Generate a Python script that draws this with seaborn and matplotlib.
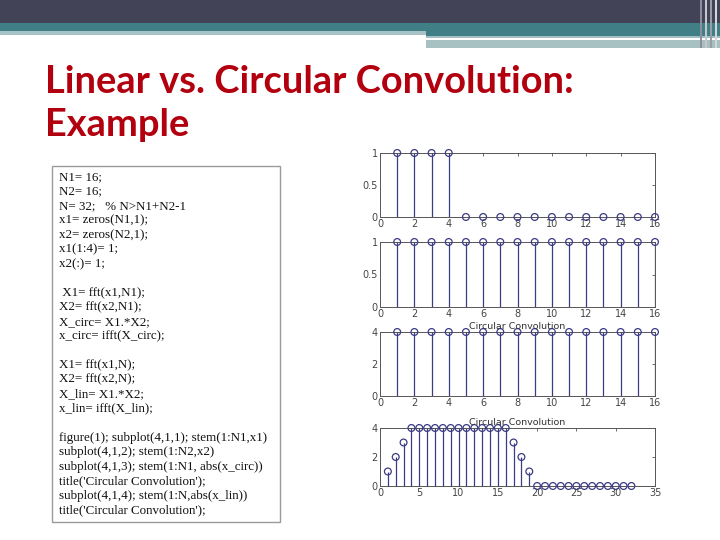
import numpy as np
import pandas as pd
import seaborn as sns
import matplotlib.pyplot as plt
from matplotlib.patches import Rectangle

# ---- data ----
n1 = list(range(1, 17))
x1 = [1, 1, 1, 1, 0, 0, 0, 0, 0, 0, 0, 0, 0, 0, 0, 0]
x2 = [1] * 16
x_circ = [4] * 16
n_lin = list(range(1, 33))
x_lin = [1, 2, 3, 4, 4, 4, 4, 4, 4, 4, 4, 4, 4, 4, 4, 4, 3, 2, 1,
         0, 0, 0, 0, 0, 0, 0, 0, 0, 0, 0, 0, 0]

title_lines = ["Linear vs. Circular Convolution:", "Example"]
code_lines = [
    "N1= 16;",
    "N2= 16;",
    "N= 32;   % N>N1+N2-1",
    "x1= zeros(N1,1);",
    "x2= zeros(N2,1);",
    "x1(1:4)= 1;",
    "x2(:)= 1;",
    "",
    " X1= fft(x1,N1);",
    "X2= fft(x2,N1);",
    "X_circ= X1.*X2;",
    "x_circ= ifft(X_circ);",
    "",
    "X1= fft(x1,N);",
    "X2= fft(x2,N);",
    "X_lin= X1.*X2;",
    "x_lin= ifft(X_lin);",
    "",
    "figure(1); subplot(4,1,1); stem(1:N1,x1)",
    "subplot(4,1,2); stem(1:N2,x2)",
    "subplot(4,1,3); stem(1:N1, abs(x_circ))",
    "title('Circular Convolution');",
    "subplot(4,1,4); stem(1:N,abs(x_lin))",
    "title('Circular Convolution');",
]

panels = [
    dict(n=n1, y=x1, xlim=(0, 16), xt=range(0, 17, 2), ylim=(0, 1), yt=[0, 0.5, 1], title=None),
    dict(n=n1, y=x2, xlim=(0, 16), xt=range(0, 17, 2), ylim=(0, 1), yt=[0, 0.5, 1], title=None),
    dict(n=n1, y=x_circ, xlim=(0, 16), xt=range(0, 17, 2), ylim=(0, 4), yt=[0, 2, 4], title="Circular Convolution"),
    dict(n=n_lin, y=x_lin, xlim=(0, 35), xt=range(0, 36, 5), ylim=(0, 4), yt=[0, 2, 4], title="Circular Convolution"),
]

sns.set_style("white")
plt.rcParams['font.family'] = ['DejaVu Sans']

W, H = 720, 540
fig = plt.figure(figsize=(7.2, 5.4), dpi=100)
fig.patch.set_facecolor("white")


def px_rect(x0, y0, x1_, y1_, color, **kw):
    # rectangle given in pixel coords (top-left origin)
    r = Rectangle((x0 / W, 1 - y1_ / H), (x1_ - x0) / W, (y1_ - y0) / H,
                  transform=fig.transFigure, facecolor=color,
                  edgecolor="none", zorder=0, **kw)
    fig.patches.append(r)
    return r


# ---- slide header bands ----
px_rect(0, 0, 720, 23, "#434357")
px_rect(0, 23, 720, 31, "#3f7f85")
px_rect(426, 31, 720, 36, "#3f7f85")
px_rect(0, 31, 426, 35, "#a7c3c5")
px_rect(426, 36, 720, 38, "#a2bec0")
px_rect(426, 40, 720, 48, "#a7c1c3")
for xs, c in [(700, "#8d8f9c"), (705, "#c6c8d0"), (710, "#9a9ca8"), (715, "#d4d6dc")]:
    px_rect(xs, 0, xs + 2, 48, c)

# ---- title ----
for i, line in enumerate(title_lines):
    fig.text(45 / W, 1 - (93 + 43 * i) / H, line, family=["Lato", "DejaVu Sans"],
             fontweight="bold", fontsize=27.4, color="#b2000f", va="baseline", ha="left")

# ---- code box ----
box = px_rect(52, 166, 280, 522, "none")
box.set_edgecolor("#9a9a9a")
box.set_linewidth(1.0)
for i, line in enumerate(code_lines):
    fig.text(59 / W, 1 - (180 + 14.48 * i) / H, line, family=["Liberation Serif", "DejaVu Serif"],
             fontsize=9.4, color="#111111", va="baseline", ha="left")

# ---- stem plots ----
boxes = [(153, 217), (242, 307), (332, 396), (428, 486)]
stem_col = "#3b3b86"
for (top, bot), p in zip(boxes, panels):
    ax = fig.add_axes([380 / W, 1 - bot / H, 275 / W, (bot - top) / H])
    df = pd.DataFrame({"n": p["n"], "v": p["y"]})
    ax.vlines(df["n"], 0, df["v"], color=stem_col, lw=0.9, zorder=2)
    sns.scatterplot(data=df, x="n", y="v", ax=ax, marker="o", s=24,
                    facecolors="none", edgecolor=stem_col, linewidth=0.9,
                    zorder=3, clip_on=False, legend=False)
    ax.set_xlim(*p["xlim"])
    ax.set_ylim(*p["ylim"])
    ax.set_xticks(list(p["xt"]))
    ax.set_yticks(p["yt"])
    ax.set_yticklabels([f"{t:g}" for t in p["yt"]])
    ax.set_xlabel("")
    ax.set_ylabel("")
    ax.tick_params(direction="in", length=2.5, width=0.6, top=True, right=True,
                   labelsize=7, labelcolor="#444444", color="#555555", pad=1.5)
    for s in ax.spines.values():
        s.set_visible(True)
        s.set_color("#555555")
        s.set_linewidth(0.7)
    ax.set_facecolor("white")
    if p["title"]:
        ax.set_title(p["title"], fontsize=6.8, color="#333333", pad=2.5)

fig.savefig("out.png", dpi=100, facecolor="white")
